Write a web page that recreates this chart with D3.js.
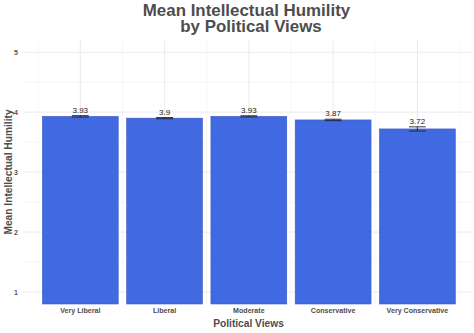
<!DOCTYPE html>
<html><head><meta charset="utf-8">
<script src="https://cdn.jsdelivr.net/npm/d3@7"></script>
<style>body{margin:0;background:#fff}svg{display:block}</style>
</head><body>
<script>
const categories = ["Very Liberal","Liberal","Moderate","Conservative","Very Conservative"];
const means = [3.93, 3.9, 3.93, 3.87, 3.72];
const errors = [0.012, 0.01, 0.01, 0.012, 0.035];
const labels = ["3.93","3.9","3.93","3.87","3.72"];
const yTicks = [1,2,3,4,5];

const W = 474, H = 333;
const panel = {left: 23, right: 473, top: 40.2, bottom: 304};
const svg = d3.select("body").append("svg").attr("width", W).attr("height", H);

const x = d3.scaleLinear().domain([0.32, 5.66]).range([panel.left, panel.right]);
const y = d3.scaleLinear().domain([0.8, 5.2]).range([panel.bottom, panel.top]);
const bw = 0.9, cw = 0.2;

const grid = svg.append("g");
// minor horizontal
d3.range(1.5, 5, 1).forEach(v => grid.append("line").attr("x1", panel.left).attr("x2", panel.right)
  .attr("y1", y(v)).attr("y2", y(v)).attr("stroke", "#f2f2f2").attr("stroke-width", 0.6));
// minor vertical
d3.range(0.5, 6, 1).forEach(v => grid.append("line").attr("y1", panel.top).attr("y2", panel.bottom)
  .attr("x1", x(v)).attr("x2", x(v)).attr("stroke", "#f2f2f2").attr("stroke-width", 0.6));
// major horizontal
yTicks.forEach(v => grid.append("line").attr("x1", panel.left).attr("x2", panel.right)
  .attr("y1", y(v)).attr("y2", y(v)).attr("stroke", "#e8e8e8").attr("stroke-width", 0.9));
categories.forEach((c, i) => grid.append("line").attr("y1", panel.top).attr("y2", panel.bottom)
  .attr("x1", x(i + 1)).attr("x2", x(i + 1)).attr("stroke", "#e8e8e8").attr("stroke-width", 0.9));

// bars
svg.append("g").selectAll("rect").data(means).join("rect")
  .attr("x", (d, i) => x(i + 1 - bw / 2))
  .attr("width", x(bw) - x(0))
  .attr("y", d => y(d))
  .attr("height", d => panel.bottom - y(d))
  .attr("fill", "#4169E1")
  .attr("stroke", "#3a5bc7").attr("stroke-width", 0.6);

// error bars
const eb = svg.append("g").attr("stroke", "#222").attr("stroke-width", 0.9);
means.forEach((m, i) => {
  const cx = i + 1;
  eb.append("line").attr("x1", x(cx)).attr("x2", x(cx)).attr("y1", y(m - errors[i])).attr("y2", y(m + errors[i]));
  eb.append("line").attr("x1", x(cx - cw / 2)).attr("x2", x(cx + cw / 2)).attr("y1", y(m + errors[i])).attr("y2", y(m + errors[i]));
  eb.append("line").attr("x1", x(cx - cw / 2)).attr("x2", x(cx + cw / 2)).attr("y1", y(m - errors[i])).attr("y2", y(m - errors[i]));
});

// value labels
svg.append("g").selectAll("text").data(means).join("text")
  .attr("x", (d, i) => x(i + 1))
  .attr("y", (d, i) => y(d + errors[i]) - 3)
  .attr("text-anchor", "middle")
  .attr("font-family", "Liberation Sans, Arial, sans-serif")
  .attr("font-size", 8).attr("fill", "#222")
  .text((d, i) => labels[i]);

// y tick labels
svg.append("g").selectAll("text").data(yTicks).join("text")
  .attr("x", 18).attr("y", d => y(d) + 2.5)
  .attr("text-anchor", "end")
  .attr("font-family", "Liberation Sans, Arial, sans-serif")
  .attr("font-size", 7).attr("font-weight", "bold").attr("fill", "#555")
  .text(d => d);

// x tick labels
svg.append("g").selectAll("text").data(categories).join("text")
  .attr("x", (d, i) => x(i + 1)).attr("y", 312.5)
  .attr("text-anchor", "middle")
  .attr("font-family", "Liberation Sans, Arial, sans-serif")
  .attr("font-size", 7.1).attr("font-weight", "bold").attr("fill", "#4d4d4d")
  .text(d => d);

// axis titles
svg.append("text").attr("x", 248.5).attr("y", 327)
  .attr("text-anchor", "middle")
  .attr("font-family", "Liberation Sans, Arial, sans-serif")
  .attr("font-size", 10.2).attr("font-weight", "bold").attr("fill", "#4d4d4d")
  .text("Political Views");
svg.append("text").attr("transform", "translate(11.5,172) rotate(-90)")
  .attr("text-anchor", "middle")
  .attr("font-family", "Liberation Sans, Arial, sans-serif")
  .attr("font-size", 10.2).attr("font-weight", "bold").attr("fill", "#4d4d4d")
  .text("Mean Intellectual Humility");

// title
const title = svg.append("text")
  .attr("text-anchor", "middle")
  .attr("font-family", "Liberation Sans, Arial, sans-serif")
  .attr("font-size", 16.9).attr("font-weight", "bold").attr("fill", "#4d4d4d");
title.append("tspan").attr("x", 246.5).attr("y", 15.7).text("Mean Intellectual Humility");
title.append("tspan").attr("x", 251).attr("y", 32.3).text("by Political Views");
</script>
</body></html>
